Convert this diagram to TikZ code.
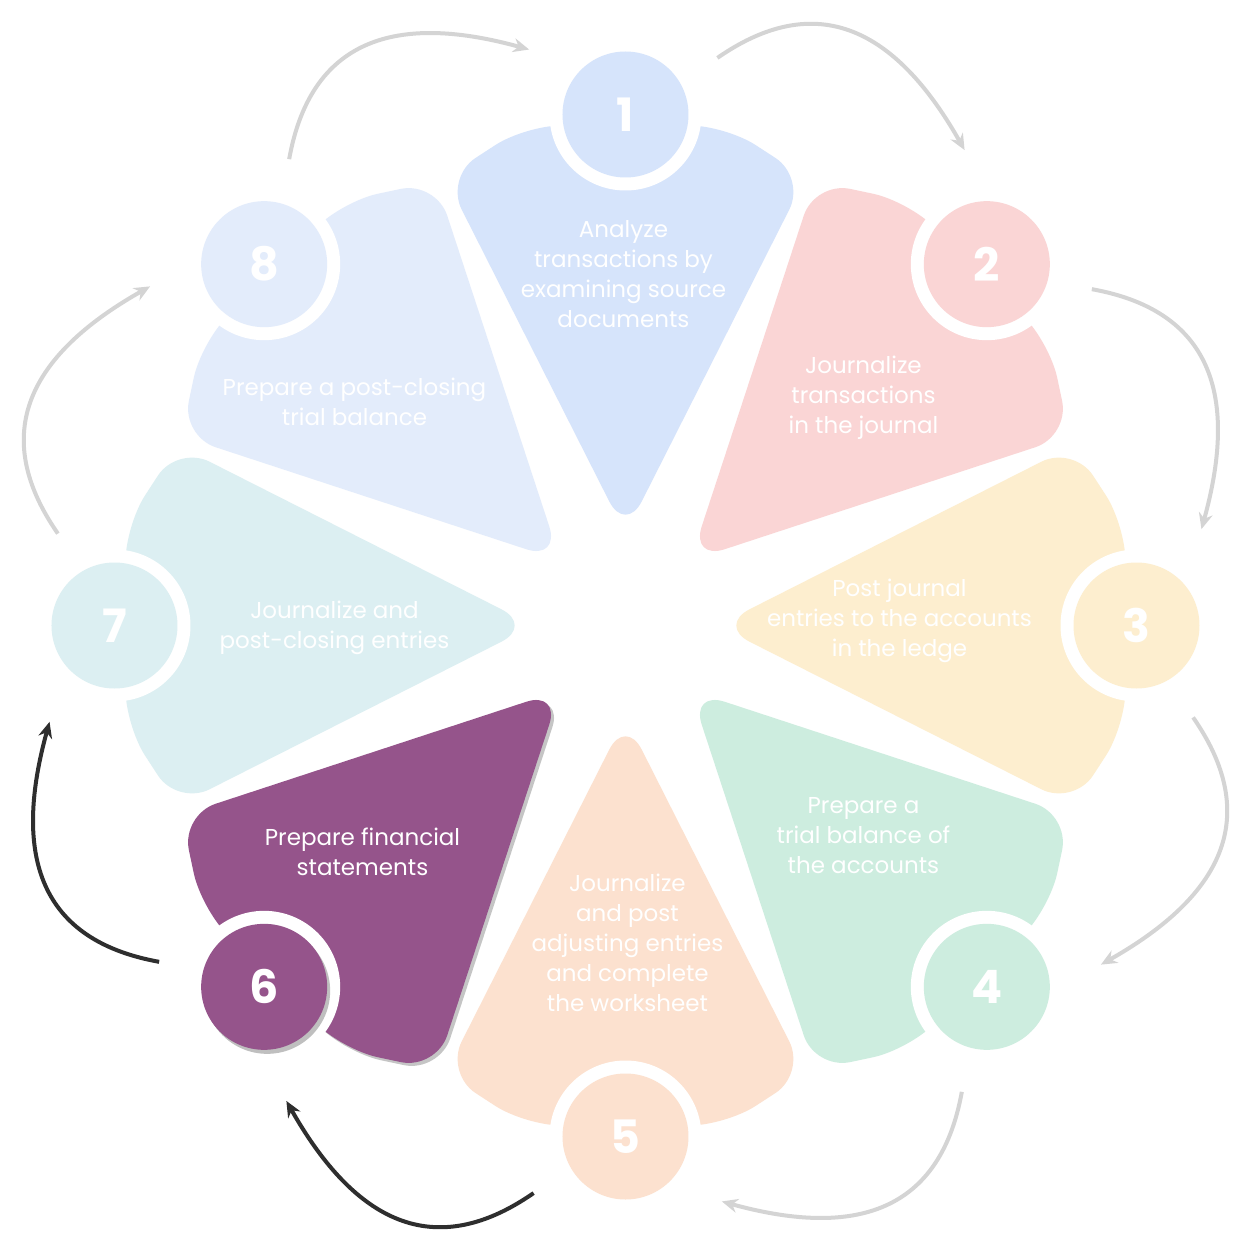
\documentclass[tikz,border=0pt]{standalone}
\usepackage{fontspec}
\setmainfont{Poppins}
\usetikzlibrary{shadows,arrows.meta}
\definecolor{c1}{HTML}{D6E4FB}
\definecolor{c2}{HTML}{FAD5D5}
\definecolor{c3}{HTML}{FDEECF}
\definecolor{c4}{HTML}{CDEDDF}
\definecolor{c5}{HTML}{FCE1CF}
\definecolor{c6}{HTML}{95548B}
\definecolor{c7}{HTML}{DCEFF2}
\definecolor{c8}{HTML}{E3ECFB}
\definecolor{arr}{HTML}{D4D4D4}
\definecolor{darr}{HTML}{2E2E2E}
\tikzset{
 petal/.style={rounded corners=36pt},
 lbl/.style={text=white,align=center,font=\fontsize{23}{30}\selectfont},
 num/.style={text=white,font=\fontsize{46}{46}\selectfont\bfseries},
 cyc/.style={line width=4pt,-{Stealth[length=16pt,width=14pt]}},
}
\newcommand{\petalpath}{(0,92) -- (-180,448) -- (-100,500) -- (100,500) -- (180,448) -- cycle}
\begin{document}
\begin{tikzpicture}[x=1pt,y=1pt]
\useasboundingbox[fill=white] (-625.5,-625.5) rectangle (625.5,625.5);
% petals
\foreach \k/\c in {1/c1,2/c2,3/c3,4/c4,5/c5,7/c7,8/c8}{
  \fill[\c,petal,rotate=-45*(\k-1)] \petalpath;
}
\fill[c6,petal,rotate=-225,drop shadow={opacity=0.45,shadow xshift=3pt,shadow yshift=-3pt}] \petalpath;
% circles
\foreach \k/\c in {1/c1,2/c2,3/c3,4/c4,5/c5,7/c7,8/c8}{
  \fill[white] ({90-45*(\k-1)}:511) circle (76);
  \fill[\c] ({90-45*(\k-1)}:511) circle (63);
  \node[num] (n\k) at ({90-45*(\k-1)}:511) {\k};
}
\fill[white] (-135:511) circle (76);
\fill[c6,drop shadow={opacity=0.5,shadow xshift=3pt,shadow yshift=-4pt}] (-135:511) circle (63);
\node[num] (n6) at (-135:511) {6};
% labels
\node[lbl] (t1) at (-2,351) {Analyze\\transactions by\\examining source\\documents};
\node[lbl] (t2) at (238,228) {Journalize\\transactions\\in the journal};
\node[lbl] (t3) at (274,5) {Post journal\\entries to the accounts\\in the ledge};
\node[lbl] (t4) at (238,-210) {Prepare a\\trial balance of\\the accounts};
\node[lbl] (t5) at (2,-317) {Journalize\\and post\\adjusting entries\\and complete\\the worksheet};
\node[lbl] (t6) at (-263,-226) {Prepare financial\\statements};
\node[lbl] (t7) at (-291,-2) {Journalize and\\post-closing entries};
\node[lbl] (t8) at (-271,224) {Prepare a post-closing\\trial balance};
% cycle arrows
\foreach \k in {0,...,7}{
  \pgfmathsetmacro{\a}{125.8-45*\k}
  \pgfmathsetmacro{\b}{\a-26.3}
  \coordinate (s\k) at (\a:575);
  \coordinate (e\k) at (\b:584);
  \ifnum\k=5 \def\col{darr}\else\ifnum\k=6 \def\col{darr}\else\def\col{arr}\fi\fi
  \draw[cyc,\col] (s\k) to[out=\a-46,in=\b+65,looseness=1.25] (e\k);
}
\end{tikzpicture}
\end{document}
